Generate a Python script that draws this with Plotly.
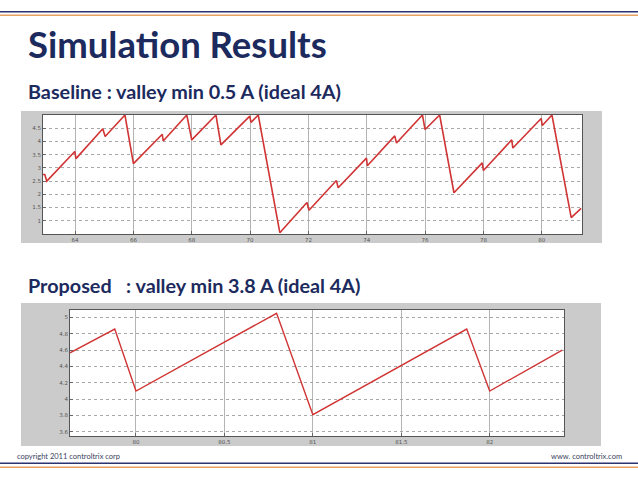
import plotly.graph_objects as go

W, H = 638, 478

# Baseline waveform (time, current)
t_base = [62.89, 62.96, 63.03, 63.99, 64.03, 64.95, 65.03, 65.71, 66.0, 66.99, 67.02,
          67.83, 68.0, 68.83, 69.0, 69.99, 70.03, 70.28, 71.02, 71.95, 72.02, 72.96,
          73.02, 73.99, 74.02, 74.96, 75.02, 75.91, 76.0, 76.5, 76.99, 77.96, 78.0,
          78.97, 79.01, 79.98, 80.02, 80.35, 81.01, 81.35]
i_base = [2.75, 2.75, 2.5, 3.62, 3.35, 4.48, 4.19, 5.0, 3.16, 4.27, 4.02,
          5.0, 4.06, 5.0, 3.87, 4.96, 4.72, 5.0, 0.55, 1.69, 1.4, 2.52,
          2.25, 3.37, 3.08, 4.21, 3.94, 5.0, 4.45, 5.0, 2.06, 3.19, 2.9,
          4.06, 3.75, 4.87, 4.6, 5.0, 1.12, 1.47]
base_xticks = [64, 66, 68, 70, 72, 74, 76, 78, 80]
base_yticks = [1, 1.5, 2, 2.5, 3, 3.5, 4, 4.5]

# Proposed waveform
t_prop = [79.627, 79.88, 80.0, 80.795, 81.0, 81.87, 82.0, 82.41]
i_prop = [4.567, 4.857, 4.10, 5.05, 3.81, 4.857, 4.10, 4.6]
prop_xticks = [80, 80.5, 81, 81.5, 82]
prop_yticks = [3.6, 3.8, 4, 4.2, 4.4, 4.6, 4.8, 5]

title = "Simulation Results"
sub1 = "Baseline : valley min 0.5 A (ideal 4A)"
sub2 = "Proposed &nbsp; : valley min 3.8 A (ideal 4A)"
foot_l = "copyright 2011 controltrix corp"
foot_r = "www. controltrix.com"

NAVY = "#1c2a5e"
RED = "#d03434"


def px(x):
    return x / W


def py(y):
    return 1 - y / H


fig = go.Figure()
fig.add_trace(go.Scatter(x=t_base, y=i_base, mode="lines", xaxis="x", yaxis="y",
                         line=dict(color=RED, width=1.6), showlegend=False,
                         hoverinfo="skip", cliponaxis=True))
fig.add_trace(go.Scatter(x=t_prop, y=i_prop, mode="lines", xaxis="x2", yaxis="y2",
                         line=dict(color=RED, width=1.4), showlegend=False,
                         hoverinfo="skip"))

axcommon = dict(showline=True, mirror=True, linecolor="#555555", linewidth=1,
                ticks="inside", ticklen=3, tickcolor="#666666",
                tickfont=dict(size=5.5, color="#555555", family="DejaVu Sans"),
                zeroline=False, fixedrange=True)

fig.update_layout(
    width=W, height=H, margin=dict(l=0, r=0, t=0, b=0),
    paper_bgcolor="white", plot_bgcolor="white",
    xaxis=dict(domain=[px(43), px(582)], range=[62.9, 81.38], tickvals=base_xticks,
               showgrid=True, gridcolor="#b4b4b4", gridwidth=1, anchor="y", **axcommon),
    yaxis=dict(domain=[py(234), py(115)], range=[0.5, 5.0], tickvals=base_yticks,
               showgrid=True, gridcolor="#a8a8a8", griddash="dot", gridwidth=1,
               anchor="x", **axcommon),
    xaxis2=dict(domain=[px(70), px(564)], range=[79.627, 82.42], tickvals=prop_xticks,
                showgrid=True, gridcolor="#b4b4b4", gridwidth=1, anchor="y2", **axcommon),
    yaxis2=dict(domain=[py(436), py(310)], range=[3.55, 5.09], tickvals=prop_yticks,
                showgrid=True, gridcolor="#a8a8a8", griddash="dot", gridwidth=1,
                anchor="x2", **axcommon),
)

shapes = []
# gray panels
shapes.append(dict(type="rect", xref="paper", yref="paper", x0=px(21), x1=px(602),
                   y0=py(243), y1=py(111), fillcolor="#cbcbcb", line=dict(width=0), layer="below"))
shapes.append(dict(type="rect", xref="paper", yref="paper", x0=px(21), x1=px(601),
                   y0=py(446), y1=py(303), fillcolor="#cbcbcb", line=dict(width=0), layer="below"))
# white plot areas
shapes.append(dict(type="rect", xref="x domain", yref="y domain", x0=0, x1=1, y0=0, y1=1,
                   fillcolor="white", line=dict(width=0), layer="below"))
shapes.append(dict(type="rect", xref="x2 domain", yref="y2 domain", x0=0, x1=1, y0=0, y1=1,
                   fillcolor="white", line=dict(width=0), layer="below"))
# header / footer rules
for yy, col in [(11.7, "#2b3370"), (15.2, "#e8a060"), (463.3, "#2b3370"), (467.3, "#e8a060")]:
    shapes.append(dict(type="line", xref="paper", yref="paper", x0=0, x1=1,
                       y0=py(yy), y1=py(yy), line=dict(color=col, width=1.5)))
fig.update_layout(shapes=shapes)

ann = []
ann.append(dict(text="<b>" + title + "</b>", x=px(26), y=py(44), xref="paper", yref="paper",
                xanchor="left", yanchor="middle", showarrow=False,
                font=dict(family="Lato", size=36.5, color=NAVY)))
ann.append(dict(text="<b>" + sub1 + "</b>", x=px(26), y=py(91), xref="paper", yref="paper",
                xanchor="left", yanchor="middle", showarrow=False,
                font=dict(family="Lato", size=19.8, color=NAVY)))
ann.append(dict(text="<b>" + sub2 + "</b>", x=px(26), y=py(285), xref="paper", yref="paper",
                xanchor="left", yanchor="middle", showarrow=False,
                font=dict(family="Lato", size=19.8, color=NAVY)))
ann.append(dict(text=foot_l, x=px(15), y=py(456), xref="paper", yref="paper",
                xanchor="left", yanchor="middle", showarrow=False,
                font=dict(family="Lato", size=7.5, color="#3a3f5c")))
ann.append(dict(text=foot_r, x=px(624), y=py(456), xref="paper", yref="paper",
                xanchor="right", yanchor="middle", showarrow=False,
                font=dict(family="Lato", size=7.5, color="#3a3f5c")))
fig.update_layout(annotations=ann)

fig.write_html("out.html")
